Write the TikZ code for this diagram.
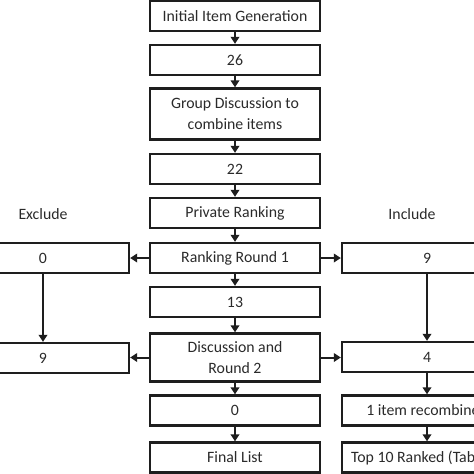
\documentclass[tikz,border=0pt]{standalone}
\usepackage{fontspec}
\setmainfont{Carlito}
\usetikzlibrary{arrows.meta}
\definecolor{ink}{HTML}{1E1E1E}
\definecolor{txt}{HTML}{2A2A2A}
\begin{document}
\begin{tikzpicture}[x=1pt,y=-1pt,
  box/.style={draw=ink,line width=2.3pt,rectangle,inner sep=0pt,minimum width=170pt,text=txt,align=center,font=\fontsize{15.8}{21}\selectfont},
  lbl/.style={text=txt,font=\fontsize{15.8}{21}\selectfont},
  arr/.style={draw=ink,line width=2pt,-{Triangle[length=7pt,width=8.5pt]}}]
\useasboundingbox (0,0) rectangle (474,474);
\clip (0,0) rectangle (474,474);
% centre column
\node[box,minimum height=30pt] (b1) at (235,16) {Initial Item Generation};
\node[box,minimum height=30pt] (b2) at (235,60) {26};
\node[box,minimum height=51pt] (b3) at (235,114) {Group Discussion to\\combine items};
\node[box,minimum height=30pt] (b4) at (235,169) {22};
\node[box,minimum height=30pt] (b5) at (235,213) {Private Ranking};
\node[box,minimum height=30pt] (b6) at (235,258) {Ranking Round 1};
\node[box,minimum height=30pt] (b7) at (235,302) {13};
\node[box,minimum height=48pt] (b8) at (235,357.5) {Discussion and\\Round 2};
\node[box,minimum height=30pt] (b9) at (235,410.5) {0};
\node[box,minimum height=30pt] (b10) at (235,457.5) {Final List};
% labels
\node[lbl] (ex) at (43,214) {Exclude};
\node[lbl] (in) at (412,214) {Include};
% left column
\node[box,minimum width=172pt,minimum height=30pt] (l1) at (43,258) {0};
\node[box,minimum width=172pt,minimum height=30pt] (l2) at (43,358) {9};
% right column
\node[box,minimum height=30pt] (r1) at (427,258) {9};
\node[box,minimum height=30pt] (r2) at (427,357) {4};
\node[box,minimum height=30pt] (r3) at (427,410.5) {1 item recombined};
\node[box,minimum height=30pt] (r4) at (427,457.5) {Top 10 Ranked (Table 2)};
% centre arrows
\draw[arr] (b1) -- (b2);
\draw[arr] (b2) -- (b3);
\draw[arr] (b3) -- (b4);
\draw[arr] (b4) -- (b5);
\draw[arr] (b5) -- (b6);
\draw[arr] (b6) -- (b7);
\draw[arr] (b7) -- (b8);
\draw[arr] (b8) -- (b9);
\draw[arr] (b9) -- (b10);
% side arrows
\draw[arr] (b6.west) -- (l1.east);
\draw[arr] (b6.east) -- (r1.west);
\draw[arr] (b8.west) -- (l2.east |- b8.west);
\draw[arr] (b8.east) -- (r2.west |- b8.east);
\draw[arr] (l1) -- (l2);
\draw[arr] (r1) -- (r2);
\draw[arr] (r2) -- (r3);
\draw[arr] (r3) -- (r4);
\end{tikzpicture}
\end{document}
